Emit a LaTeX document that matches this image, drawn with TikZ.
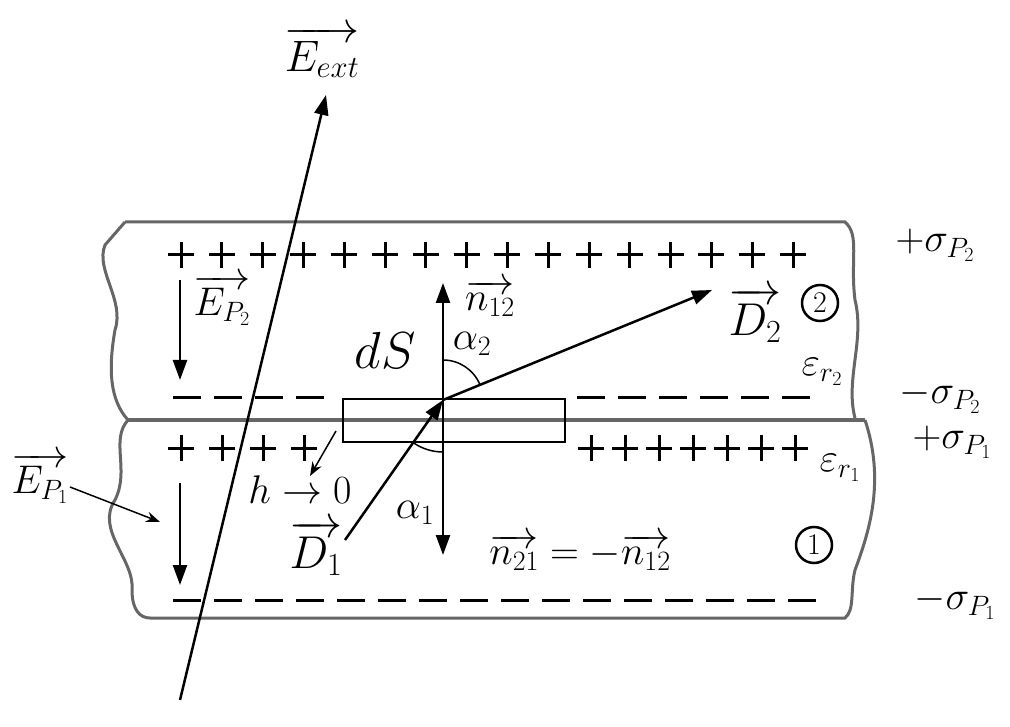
\documentclass[tikz,border=0pt]{standalone}
\usepackage{fix-cm}
\usetikzlibrary{arrows.meta}
\begin{document}
\begin{tikzpicture}[x=1pt,y=-1pt,
 slab/.style={draw=black!60,line width=3pt},
 vec/.style={line width=2.5pt,-{Triangle[length=20pt,width=14pt]}},
 lbl/.style={font=\fontsize{40}{40}\selectfont,inner sep=0pt},
 cnum/.style={draw,circle,line width=2.5pt,minimum size=36pt,inner sep=0pt,font=\fontsize{30}{30}\selectfont}]
\useasboundingbox (0,0) rectangle (1010,727);
% slabs
\draw[slab] (125,222) -- (845,222) .. controls (860,235) and (850,260) .. (855,300) .. controls (865,340) and (845,380) .. (855,418);
\draw[slab] (125,222) -- (105,245) .. controls (95,270) and (125,300) .. (115,330) .. controls (108,370) and (110,400) .. (128,420);
\draw[slab] (128,420) -- (865,420);
\draw[slab] (128,420) .. controls (110,440) and (130,470) .. (115,500) .. controls (95,530) and (135,560) .. (132,590) .. controls (132,610) and (140,618) .. (150,618) -- (845,618) .. controls (855,610) and (850,590) .. (855,570) .. controls (870,530) and (885,480) .. (865,420);
% charges
\begin{scope}[line width=3pt]
\foreach \x in {0,...,15} \draw (181+40.8*\x,242) -- ++(0,26) (168+40.8*\x,255) -- ++(26,0);
\foreach \x in {0,...,3} \draw (181+41*\x,435) -- ++(0,26) (168+41*\x,448) -- ++(26,0);
\foreach \x in {0,...,6} \draw (591+34*\x,435) -- ++(0,26) (578+34*\x,448) -- ++(26,0);
\foreach \x in {0,...,3} \draw (173+41*\x,398) -- ++(28,0);
\foreach \x in {0,...,5} \draw (577+41*\x,398) -- ++(28,0);
\foreach \x in {0,...,15} \draw (173+41*\x,600) -- ++(28,0);
\end{scope}
% dS box
\draw[line width=2.5pt] (343,399) rectangle (565,442);
\coordinate (O) at (443,400);
\coordinate (n12) at (443,283);
\coordinate (n21) at (443,555);
\coordinate (D2) at (712,290);
\coordinate (D1) at (345,540);
\draw[vec] (O) -- (n12);
\draw[vec] (O) -- (n21);
\draw[vec] (O) -- (D2);
\draw[vec] (D1) -- (O);
\draw[line width=1.5pt] (443,360) arc[start angle=-90,end angle=-22,radius=40];
\draw[line width=1.5pt] (443,452) arc[start angle=90,end angle=125,radius=52];
% E ext
\coordinate (Ea) at (180,700);
\coordinate (Eb) at (326,95);
\draw[vec] (Ea) -- (Eb);
\node[lbl,font=\fontsize{44}{44}\selectfont] (Eext) at (322,52) {$\overrightarrow{E_{ext}}$};
% Ep arrows
\coordinate (ep2a) at (180,280); \coordinate (ep2b) at (180,380);
\coordinate (ep1a) at (180,483); \coordinate (ep1b) at (180,585);
\draw[vec] (ep2a) -- (ep2b);
\draw[vec] (ep1a) -- (ep1b);
\node[lbl] (EP2) at (222,300) {$\overrightarrow{E_{P_2}}$};
\node[lbl] (EP1) at (40,478) {$\overrightarrow{E_{P_1}}$};
\draw[line width=1.5pt,-{Stealth[length=14pt]}] (70,487) -- (160,522);
\node[lbl] (h0) at (300,490) {$h\rightarrow 0$};
\draw[line width=1.5pt,-{Stealth[length=14pt]}] (336,431) -- (310,476);
% labels
\node[lbl] (ln12) at (490,298) {$\overrightarrow{n_{12}}$};
\node[lbl] (la2) at (472,344) {$\alpha_2$};
\node[lbl,font=\fontsize{52}{52}\selectfont] (ldS) at (385,350) {$dS$};
\node[lbl,font=\fontsize{46}{46}\selectfont] (lD2) at (755,315) {$\overrightarrow{D_2}$};
\node[cnum] (c2) at (820,303) {2};
\node[lbl] (er2) at (822,372) {$\varepsilon_{r_2}$};
\node[lbl] (er1) at (840,468) {$\varepsilon_{r_1}$};
\node[lbl] (sp2) at (935,245) {$+\sigma_{P_2}$};
\node[lbl] (sm2) at (940,397) {$-\sigma_{P_2}$};
\node[lbl] (sp1) at (952,442) {$+\sigma_{P_1}$};
\node[lbl] (sm1) at (955,603) {$-\sigma_{P_1}$};
\node[lbl] (la1) at (415,513) {$\alpha_1$};
\node[lbl,font=\fontsize{46}{46}\selectfont] (lD1) at (316,548) {$\overrightarrow{D_1}$};
\node[lbl] (ln21) at (580,552) {$\overrightarrow{n_{21}}=-\overrightarrow{n_{12}}$};
\node[cnum] (c1) at (814,545) {1};
\end{tikzpicture}
\end{document}
